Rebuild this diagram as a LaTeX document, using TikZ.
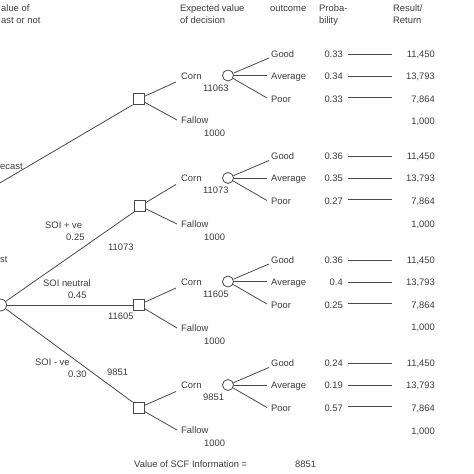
\documentclass[tikz,border=0pt]{standalone}
\usepackage{fontspec}
\setmainfont{Liberation Sans}
\definecolor{txt}{HTML}{3C3C3C}
\definecolor{ln}{HTML}{4A4A4A}
\begin{document}
\begin{tikzpicture}[x=1pt,y=-1pt,
  lbl/.style={anchor=west,inner sep=0pt,text height=6.8pt,text depth=0pt,font=\fontsize{9.4}{11}\selectfont,text=txt},
  rlbl/.style={lbl,anchor=east},
  edge/.style={draw=ln,line width=0.8pt},
  decbox/.style={draw=ln,line width=0.8pt,minimum size=11pt,inner sep=0pt,fill=white},
  chance/.style={draw=ln,line width=0.8pt,circle,minimum size=11pt,inner sep=0pt,fill=white}]
\useasboundingbox (0,0) rectangle (474,474);
\clip (0,0) rectangle (474,474);
% headers
\node[lbl] (h1a) at (1,8) {alue of};
\node[lbl] (h1b) at (1,20) {ast or not};
\node[lbl] (h2a) at (180,8) {Expected value};
\node[lbl] (h2b) at (180,20) {of decision};
\node[lbl] (h3) at (270,8) {outcome};
\node[lbl] (h4a) at (319,8) {Proba-};
\node[lbl] (h4b) at (319,20) {bility};
\node[lbl] (h5a) at (393,8) {Result/};
\node[lbl] (h5b) at (393,20) {Return};
% groups
\foreach \i/\sx/\sy/\cy/\cv/\fy/\pg/\pa/\pp in {
  1/138.5/99/75.5/11063/120/0.33/0.34/0.33,
  2/140/206/178/11073/224/0.36/0.35/0.27,
  3/138.5/305/281.5/11605/328/0.36/0.4/0.25,
  4/138.5/408/385/9851/430/0.24/0.19/0.57}{
  \node[decbox] (s\i) at (\sx,\sy) {};
  \coordinate (ce\i) at (176,\cy+6.5);
  \coordinate (fe\i) at (177,\fy);
  \draw[edge] (s\i) -- (ce\i);
  \draw[edge] (s\i) -- (fe\i);
  \node[lbl] (corn\i) at (181,\cy+0.5) {Corn};
  \node[lbl] (cval\i) at (203,\cy+12.5) {\cv};
  \node[lbl] (fal\i) at (181,\fy) {Fallow};
  \node[lbl] (fval\i) at (204,\fy+13) {1000};
  \node[chance] (c\i) at (228,\cy) {};
  \coordinate (ge\i) at (269,\cy-17.5);
  \coordinate (ae\i) at (267,\cy);
  \coordinate (pe\i) at (267,\cy+22.5);
  \draw[edge] (c\i) -- (ge\i);
  \draw[edge] (c\i) -- (ae\i);
  \draw[edge] (c\i) -- (pe\i);
  \node[lbl] (good\i) at (271,\cy-21.5) {Good};
  \node[lbl] (avg\i) at (271,\cy+0.5) {Average};
  \node[lbl] (poor\i) at (271,\cy+23.5) {Poor};
  \node[rlbl] (pg\i) at (343,\cy-21.5) {\pg};
  \node[rlbl] (pa\i) at (343,\cy+0.5) {\pa};
  \node[rlbl] (pp\i) at (343,\cy+23.5) {\pp};
  \coordinate (lg\i a) at (348,\cy-21.5); \coordinate (lg\i b) at (392,\cy-21.5);
  \coordinate (la\i a) at (348,\cy+0.5); \coordinate (la\i b) at (392,\cy+0.5);
  \coordinate (lp\i a) at (348,\cy+21.5); \coordinate (lp\i b) at (392,\cy+21.5);
  \draw[edge] (lg\i a) -- (lg\i b);
  \draw[edge] (la\i a) -- (la\i b);
  \draw[edge] (lp\i a) -- (lp\i b);
  \node[rlbl] (rg\i) at (435,\cy-21.5) {11,450};
  \node[rlbl] (ra\i) at (435,\cy+0.5) {13,793};
  \node[rlbl] (rp\i) at (435,\cy+23.5) {7,864};
  \node[rlbl] (rf\i) at (435,\cy+46) {1,000};
}
% root
\coordinate (nf) at (-1,183.5);
\draw[edge] (nf) -- (s1.south west);
\node[chance,minimum size=12pt] (root) at (0.5,305) {};
\draw[edge] (root) -- (s2.south west);
\draw[edge] (root) -- (s3.west);
\draw[edge] (root) -- (s4.north west);
\node[lbl] (nfl) at (0,166) {ecast};
\node[lbl] (fl) at (0,259) {st};
% edge labels
\node[lbl] (e1a) at (45,225) {SOI + ve};
\node[lbl] (e1b) at (66,237) {0.25};
\node[lbl] (e1c) at (108,247) {11073};
\node[lbl] (e2a) at (43,283) {SOI neutral};
\node[lbl] (e2b) at (68,295) {0.45};
\node[lbl] (e2c) at (108,316) {11605};
\node[lbl] (e3a) at (35,362) {SOI - ve};
\node[lbl] (e3b) at (68,374) {0.30};
\node[lbl] (e3c) at (107,372) {9851};
% bottom
\node[lbl] (v1) at (134,464) {Value of SCF Information =};
\node[lbl] (v2) at (295,464) {8851};
\end{tikzpicture}
\end{document}
